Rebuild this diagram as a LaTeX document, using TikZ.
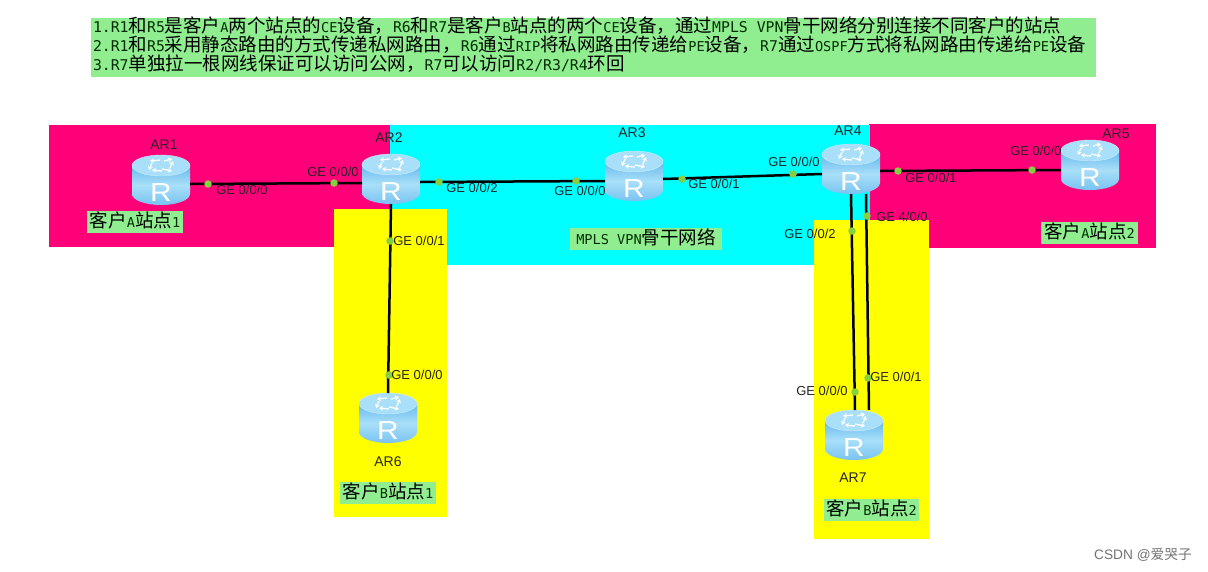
\documentclass[tikz,border=0pt]{standalone}
\usepackage{fontspec}
\setmainfont{Liberation Sans}
\newfontfamily\cjkf{Noto Sans CJK SC}
\newfontfamily\monof{DejaVu Sans Mono}
\usetikzlibrary{calc,arrows.meta}
\definecolor{pinkc}{HTML}{FF0078}
\definecolor{cyanc}{HTML}{00FFFF}
\definecolor{yelc}{HTML}{FFFF00}
\definecolor{greenbg}{HTML}{90EE90}
\definecolor{portc}{HTML}{86CF3F}
\definecolor{rlight}{HTML}{A9DFF8}
\definecolor{rmid}{HTML}{8FD6F7}
\definecolor{rdark}{HTML}{62B8EE}
\newcommand{\cj}[1]{{\fontsize{18.5}{18}\cjkf #1}}
\newcommand{\ms}[1]{{\fontsize{14.8}{18}\monof\color{black!80!green!90!black}#1}}
\newcommand{\sm}[1]{{\fontsize{13.6}{18}\monof\color{black!80!green!90!black}#1}}
\tikzset{
  x=1pt,y=-1pt,
  toptext/.style={anchor=base west,inner sep=0pt,outer sep=0pt},
  sitelabel/.style={fill=greenbg,inner sep=0pt,minimum height=22pt,text height=14pt,text depth=3pt},
  arlabel/.style={font=\fontsize{14}{14}\selectfont,inner sep=0pt,text=black!85},
  iflabel/.style={font=\fontsize{13}{13}\selectfont,inner sep=0pt,text=black!85},
  portdot/.style={circle,fill=portc,minimum size=7.5pt,inner sep=0pt},
  link/.style={line width=2.5pt,black},
  routerbox/.style={rectangle,minimum width=58pt,minimum height=50pt,inner sep=0pt,outer sep=0pt},
  rarrow/.style={white,line width=1.3pt,-{Stealth[length=4pt,width=5pt]}}
}
% name, x, y
\newcommand{\router}[3]{%
  \node[routerbox] (#1) at (#2,#3) {};
  \begin{scope}[shift={(#2,#3)}]
    \path[left color=rdark,right color=rdark!85!white,middle color=rlight,shading angle=0]
      (-29,-15) -- (-29,14) arc[start angle=180,end angle=360,x radius=29pt,y radius=11pt] -- (29,-15) -- cycle;
    \fill[rlight,draw=rlight!60!white,line width=.4pt] (0,-14.5) ellipse[x radius=29pt,y radius=10.5pt];
    \draw[rarrow] (-1,-20) -- (-11,-19);
    \draw[rarrow] (-9,-17) -- (-12,-10);
    \draw[rarrow] (1,-9) -- (-9,-10);
    \draw[rarrow] (9,-12) -- (12,-19);
    \draw[rarrow] (3,-19) -- (11,-21);
    \draw[rarrow] (1,-11) -- (11,-9);
    \node[inner sep=0pt,text=white,font=\fontsize{26}{26}\selectfont,xscale=1.15] (#1icon) at (0,13) {R};
  \end{scope}
}
\begin{document}
\begin{tikzpicture}
\useasboundingbox (0,0) rectangle (1208,571);
\fill[white] (0,0) rectangle (1208,571);
% zones
\fill[pinkc] (49,125) rectangle (391,247);
\fill[pinkc] (869,124) rectangle (1156,248);
\fill[cyanc] (390,125) rectangle (870,265);
\fill[yelc] (334,209) rectangle (447,517);
\fill[yelc] (814,220) rectangle (929,539);
% note box
\node[fill=greenbg,minimum width=1005pt,minimum height=59pt,inner sep=0pt] (note) at (593.5,47.5) {};
\node[toptext] (l1) at (93,32) {\ms{1.R1}\cj{和}\ms{R5}\cj{是客户}\sm{A}\cj{两个站点的}\sm{CE}\cj{设备，}\ms{R6}\cj{和}\ms{R7}\cj{是客户}\sm{B}\cj{站点的两个}\sm{CE}\cj{设备，通过}\ms{MPLS VPN}\cj{骨干网络分别连接不同客户的站点}};
\node[toptext] (l2) at (93,51) {\ms{2.R1}\cj{和}\ms{R5}\cj{采用静态路由的方式传递私网路由，}\ms{R6}\cj{通过}\sm{RIP}\cj{将私网路由传递给}\sm{PE}\cj{设备，}\ms{R7}\cj{通过}\sm{OSPF}\cj{方式将私网路由传递给}\sm{PE}\cj{设备}};
\node[toptext] (l3) at (93,70) {\ms{3.R7}\cj{单独拉一根网线保证可以访问公网，}\ms{R7}\cj{可以访问}\ms{R2/R3/R4}\cj{环回}};
% routers
\router{r1}{161}{180}
\router{r2}{391}{179}
\router{r3}{634}{176}
\router{r4}{851}{169}
\router{r5}{1090}{165}
\router{r6}{388}{418}
\router{r7}{854}{435}
% links
\draw[link] ([yshift=-4pt]r1.east) -- ([yshift=-4pt]r2.west);
\draw[link] ([yshift=-3pt]r2.east) -- ([yshift=-5pt]r3.west);
\draw[link] ([yshift=-3pt]r3.east) -- ([yshift=-5pt]r4.west);
\draw[link] ([yshift=-2pt]r4.east) -- ([yshift=-5pt]r5.west);
\draw[link] (r2.south) -- (r6.north);
\draw[link] ([xshift=0pt]r4.south) -- ([xshift=1pt]r7.north);
\draw[link] ([xshift=15pt]r4.south) -- ([xshift=15pt]r7.north);
% port dots
\foreach \n/\x/\y in {p1/208/184,p2/334/183,p3/439/182,p4/576/181,p5/682/179,p6/793/174,p7/898/171,p8/1032/170,p9/390/241,p10/389/375,p11/852/231,p12/867/216,p13/855/392,p14/868/378}
  \node[portdot] (\n) at (\x,\y) {};
% router labels
\node[arlabel] (t1) at (164,145) {AR1};
\node[arlabel] (t2) at (389,138) {AR2};
\node[arlabel] (t3) at (632,133) {AR3};
\node[arlabel] (t4) at (848,131) {AR4};
\node[arlabel] (t5) at (1116,134) {AR5};
\node[arlabel] (t6) at (388,462) {AR6};
\node[arlabel] (t7) at (853,478) {AR7};
% interface labels
\foreach \n/\x/\y/\s in {i1/242/190/GE 0\slash 0\slash 0,i2/333/172/GE 0\slash 0\slash 0,i3/472/188/GE 0\slash 0\slash 2,i4/580/191/GE 0\slash 0\slash 0,i5/714/184/GE 0\slash 0\slash 1,i6/794/162/GE 0\slash 0\slash 0,i7/931/178/GE 0\slash 0\slash 1,i8/1036/151/GE 0\slash 0\slash 0,i9/419/241/GE 0\slash 0\slash 1,i10/417/375/GE 0\slash 0\slash 0,i11/810/234/GE 0\slash 0\slash 2,i12/902/217/GE 4\slash 0\slash 0,i13/822/391/GE 0\slash 0\slash 0,i14/896/377/GE 0\slash 0\slash 1}
  \node[iflabel] (\n) at (\x,\y) {\s};
% site labels
\node[sitelabel,minimum width=96pt] (s1) at (135,222) {\cj{客户}\sm{A}\cj{站点}\sm{1}};
\node[sitelabel,minimum width=97pt] (s2) at (1089.5,232.5) {\cj{客户}\sm{A}\cj{站点}\sm{2}};
\node[sitelabel,minimum width=96pt] (s3) at (388,493) {\cj{客户}\sm{B}\cj{站点}\sm{1}};
\node[sitelabel,minimum width=95pt] (s4) at (871.5,509.5) {\cj{客户}\sm{B}\cj{站点}\sm{2}};
\node[sitelabel,minimum width=152pt] (s5) at (646,238.5) {\sm{MPLS VPN}\cj{骨干网络}};
% watermark
\node[inner sep=0pt,text=black!55,font=\fontsize{13.7}{13.7}\selectfont] (wm) at (1143,555) {CSDN @{\cjkf 爱哭子}};
\end{tikzpicture}
\end{document}
